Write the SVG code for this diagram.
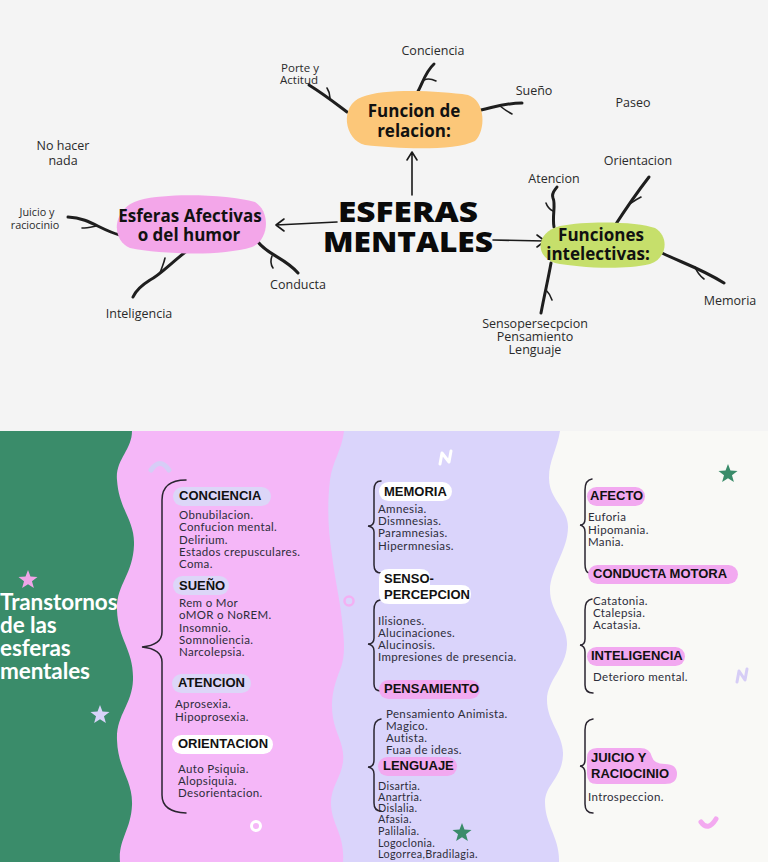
<svg xmlns="http://www.w3.org/2000/svg" xmlns:xlink="http://www.w3.org/1999/xlink" width="768" height="862" viewBox="0 0 768 862">
<defs>
<style>
.lbl{font-family:"Open Sans","Liberation Sans",sans-serif;font-size:12.5px;fill:#2a2a2a;text-anchor:middle}
.blob{font-family:"Open Sans","Liberation Sans",sans-serif;font-size:17px;font-weight:700;fill:#111;text-anchor:middle}
.title{font-family:"Open Sans","Liberation Sans",sans-serif;font-size:28px;font-weight:800;fill:#0a0a0a;text-anchor:middle}
.br{fill:none;stroke:#1e1e1e;stroke-width:3;stroke-linecap:round}
.tw{fill:none;stroke:#1e1e1e;stroke-width:1.6;stroke-linecap:round}
.conn{fill:none;stroke:#1a1a1a;stroke-width:1.6;stroke-linecap:round;stroke-linejoin:round}
.h{font-family:"Liberation Sans","Open Sans",sans-serif;font-size:13px;font-weight:700;fill:#111}
.it{font-family:"Lato","Open Sans",sans-serif;font-size:11.5px;letter-spacing:0.35px;fill:#2d2d3a}
.sm{font-size:10.8px}
.brace{fill:none;stroke:#2a2530;stroke-width:1.5;stroke-linecap:round}
.big{font-family:"Lato","Open Sans",sans-serif;font-size:22.5px;font-weight:700;fill:#ffffff;letter-spacing:-0.1px}
.pl{fill:#dcd6f8}.pw{fill:#ffffff}.pp{fill:#f2a9f0}
</style>
<polygon id="star" points="0,-10 2.47,-3.4 9.51,-3.09 3.99,1.3 5.88,8.09 0,4.2 -5.88,8.09 -3.99,1.3 -9.51,-3.09 -2.47,-3.4"/>
</defs>

<!-- top background -->
<rect x="0" y="0" width="768" height="431" fill="#f4f4f4"/>

<!-- bottom backgrounds -->
<g id="bottom-bg">
<rect x="0" y="431" width="768" height="431" fill="#f9f9f6"/>
<path d="M0,431 H560 C557,450 549,460 549,478 C549,500 568,508 568,527 C568,550 550,570 550,590 C550,612 568,625 567,645 C566,668 547,680 547,700 C547,722 564,735 563,755 C562,778 545,785 545,802 C545,825 560,838 559,862 H0 Z" fill="#dad4fb"/>
<path d="M0,431 H344 C342,450 332,462 330,480 C327,505 328,530 332,555 C335,580 340,600 342,620 C344,640 346,655 340,670 C334,685 330,700 333,718 C336,735 345,745 343,762 C341,778 330,788 331,805 C332,825 345,835 343,862 H0 Z" fill="#f5b7f8"/>
<path d="M0,431 H132 C132,450 115,460 117,480 C119,510 135,520 134,545 C133,575 116,585 117,610 C118,640 134,650 133,680 C132,705 116,715 117,740 C118,770 133,780 132,805 C131,830 118,840 120,862 H0 Z" fill="#3a8c6a"/>
</g>

<!-- decorations -->
<g id="decor">
<path d="M151,470 Q160,457 169,470" fill="none" stroke="#d6cdf6" stroke-width="5" stroke-linecap="round"/>
<path d="M440,464 L442,453 L449,462 L451,451" fill="none" stroke="#ffffff" stroke-width="3" stroke-linecap="round" stroke-linejoin="round"/>
<use xlink:href="#star" href="#star" transform="translate(728,474)" fill="#3a8c6a"/>
<use xlink:href="#star" href="#star" transform="translate(28,580)" fill="#f0a5e8"/>
<use xlink:href="#star" href="#star" transform="translate(100,715)" fill="#d8d3fa"/>
<use xlink:href="#star" href="#star" transform="translate(462,833)" fill="#3a8c6a"/>
<circle cx="349" cy="601" r="4.5" fill="none" stroke="#f3b0f3" stroke-width="2.5"/>
<circle cx="256" cy="826" r="4.5" fill="none" stroke="#ffffff" stroke-width="3"/>
<path d="M737,682 L739,671 L745,680 L747,669" fill="none" stroke="#d6cdf6" stroke-width="3" stroke-linecap="round" stroke-linejoin="round"/>
<path d="M701,822 Q708,832 716,819" fill="none" stroke="#f3a9f0" stroke-width="5" stroke-linecap="round"/>
</g>

<!-- connectors -->
<g id="connectors">
<path class="conn" d="M412,195 V152 M407,160 L412,152 L417,160"/>
<path class="conn" d="M337,222 L276,225 M284,219 L276,225 L284,231"/>
<path class="conn" d="M493,240 L545,241 M537,235 L545,241 L537,247"/>
<!-- branches -->
<path class="br" d="M347,112 C335,103 325,95 309,85"/>
<path class="tw" d="M330,98 C330,93 329,91 327,88"/>
<path class="br" d="M417,93 C422,85 425,72 434,64"/>
<path class="tw" d="M424,80 C428,78 432,79 436,81"/>
<path class="br" d="M481,110 C495,107 505,103 522,103"/>
<path class="tw" d="M500,106 C505,110 508,112 512,114"/>
<path class="br" d="M120,235 C100,230 90,218 68,217"/>
<path class="tw" d="M96,226 C91,227 87,228 82,228"/>
<path class="br" d="M188,250 C172,262 160,275 150,280 C142,285 136,290 133,297"/>
<path class="tw" d="M160,273 C162,267 164,263 165,258"/>
<path class="br" d="M258,242 C268,255 285,258 298,273"/>
<path class="tw" d="M272,256 C270,261 271,265 273,268"/>
<path class="br" d="M554,227 C552,215 556,205 553,198 C551,193 555,190 557,187"/>
<path class="tw" d="M553,211 C549,209 547,206 546,203"/>
<path class="br" d="M614,227 C625,210 635,195 649,177"/>
<path class="tw" d="M631,203 C634,201 637,199 641,197"/>
<path class="br" d="M662,253 C680,262 700,268 724,283"/>
<path class="tw" d="M695,267 C697,272 700,276 704,279"/>
<path class="br" d="M551,263 C548,280 545,292 541,313"/>
<path class="tw" d="M546,290 C550,294 551,297 552,300"/>
</g>

<!-- top nodes -->
<g id="node-center">
<text class="title" x="408" y="222" textLength="140" lengthAdjust="spacingAndGlyphs">ESFERAS</text>
<text class="title" x="408" y="252" textLength="170" lengthAdjust="spacingAndGlyphs">MENTALES</text>
</g>
<g id="node-relacion">
<path d="M362,97 C385,88 440,91 468,95 C486,101 486,131 475,141 C455,151 400,149 365,145 C344,140 339,105 362,97 Z" fill="#fcc779"/>
<text class="blob" x="414" y="117">Funcion de</text>
<text class="blob" x="414" y="137">relacion:</text>
</g>
<g id="node-afectivas">
<path d="M140,200 C170,192 230,195 255,202 C271,212 269,240 252,247 C220,257 160,254 130,248 C111,240 111,208 140,200 Z" fill="#f3a6e9"/>
<text class="blob" x="190" y="222">Esferas Afectivas</text>
<text class="blob" x="189" y="241">o del humor</text>
</g>
<g id="node-intelectivas">
<path d="M560,226 C590,220 640,222 655,228 C669,236 668,258 650,264 C620,271 575,267 555,263 C534,256 536,232 560,226 Z" fill="#c6df6b"/>
<text class="blob" x="601" y="241">Funciones</text>
<text class="blob" x="598" y="259.5">intelectivas:</text>
</g>
<g id="labels">
<text class="lbl" x="433" y="55">Conciencia</text>
<text class="lbl" x="534" y="95">Sueño</text>
<text class="lbl" x="633" y="107">Paseo</text>
<text class="lbl" x="300" y="72" style="font-size:11.5px">Porte y</text>
<text class="lbl" x="299" y="84" style="font-size:11.5px">Actitud</text>
<text class="lbl" x="63" y="150">No hacer</text>
<text class="lbl" x="63" y="164.5">nada</text>
<text class="lbl" x="37" y="216" style="font-size:10.8px">Juicio y</text>
<text class="lbl" x="35" y="228.5" style="font-size:10.8px">raciocinio</text>
<text class="lbl" x="298" y="289">Conducta</text>
<text class="lbl" x="139" y="318">Inteligencia</text>
<text class="lbl" x="554" y="183">Atencion</text>
<text class="lbl" x="638" y="165">Orientacion</text>
<text class="lbl" x="730" y="305">Memoria</text>
<text class="lbl" x="535" y="328">Sensopersecpcion</text>
<text class="lbl" x="535" y="341">Pensamiento</text>
<text class="lbl" x="535" y="354">Lenguaje</text>
</g>

<!-- bottom title -->
<g id="node-transtornos">
<text class="big" x="0" y="610">Transtornos</text>
<text class="big" x="0" y="633">de las</text>
<text class="big" x="0" y="656">esferas</text>
<text class="big" x="0" y="679">mentales</text>
</g>

<!-- column 1 -->
<g id="col-1">
<path class="brace" d="M186,480 Q162,480 162,500 V632 Q162,645 142,647 Q162,649 162,662 V795 Q162,812 186,813"/>
<rect class="pl" x="173" y="487" width="98" height="19" rx="9.5"/>
<text class="h" x="179" y="500">CONCIENCIA</text>
<text class="it" x="179" y="519">Obnubilacion.</text>
<text class="it" x="179" y="531">Confucion mental.</text>
<text class="it" x="179" y="543.5">Delirium.</text>
<text class="it" x="179" y="556">Estados crepusculares.</text>
<text class="it" x="179" y="568">Coma.</text>
<rect class="pl" x="173" y="576" width="56" height="19" rx="9.5"/>
<text class="h" x="179" y="590">SUEÑO</text>
<text class="it" x="179" y="607">Rem o Mor</text>
<text class="it" x="179" y="619">oMOR o NoREM.</text>
<text class="it" x="179" y="631.5">Insomnio.</text>
<text class="it" x="179" y="643.5">Somnoliencia.</text>
<text class="it" x="179" y="656">Narcolepsia.</text>
<rect class="pl" x="172" y="674" width="79" height="19" rx="9.5"/>
<text class="h" x="178" y="687">ATENCION</text>
<text class="it" x="175" y="708">Aprosexia.</text>
<text class="it" x="175" y="721">Hipoprosexia.</text>
<rect class="pw" x="172" y="735" width="101" height="19" rx="9.5"/>
<text class="h" x="178" y="748">ORIENTACION</text>
<text class="it" x="178" y="773">Auto Psiquia.</text>
<text class="it" x="178" y="785">Alopsiquia.</text>
<text class="it" x="178" y="797">Desorientacion.</text>
</g>

<!-- column 2 -->
<g id="col-2">
<path class="brace" d="M381,481 Q374,481 374,490 V520 Q374,526 368,526 Q374,527 374,532 V565 Q374,573 381,573"/>
<path class="brace" d="M380,600 Q374,601 374,610 V638 Q374,644 368,644 Q374,645 374,651 V684 Q374,691 381,691"/>
<path class="brace" d="M381,719 Q374,720 374,730 V760 Q374,767 368,767 Q374,768 374,774 V803 Q374,811 381,811"/>
<rect class="pw" x="379" y="482" width="73" height="19" rx="9.5"/>
<text class="h" x="384" y="496">MEMORIA</text>
<text class="it" x="378" y="513">Amnesia.</text>
<text class="it" x="378" y="525">Dismnesias.</text>
<text class="it" x="378" y="537">Paramnesias.</text>
<text class="it" x="378" y="550">Hipermnesias.</text>
<path class="pw" d="M389,569 H420 Q430,569 430,578 V585 H461 Q471,585 471,594 Q471,604 461,604 H389 Q379,604 379,594 V578 Q379,569 389,569 Z"/>
<text class="h" x="384" y="583">SENSO-</text>
<text class="h" x="384" y="599">PERCEPCION</text>
<text class="it" x="378" y="625">Ilisiones.</text>
<text class="it" x="378" y="637">Alucinaciones.</text>
<text class="it" x="378" y="649">Alucinosis.</text>
<text class="it" x="378" y="661">Impresiones de presencia.</text>
<rect class="pp" x="379" y="680" width="101" height="19" rx="9.5"/>
<text class="h" x="384" y="693">PENSAMIENTO</text>
<text class="it" x="386" y="718">Pensamiento Animista.</text>
<text class="it" x="386" y="730">Magico.</text>
<text class="it" x="386" y="742">Autista.</text>
<text class="it" x="386" y="754">Fuaa de ideas.</text>
<rect class="pp" x="378" y="757" width="79" height="19" rx="9.5"/>
<text class="h" x="383" y="770">LENGUAJE</text>
<text class="it sm" x="378" y="790">Disartia.</text>
<text class="it sm" x="378" y="801">Anartria.</text>
<text class="it sm" x="378" y="812">Dislalia.</text>
<text class="it sm" x="378" y="823">Afasia.</text>
<text class="it sm" x="378" y="835">Palilalia.</text>
<text class="it sm" x="378" y="847">Logoclonia.</text>
<text class="it sm" x="378" y="858">Logorrea,Bradilagia.</text>
</g>

<!-- column 3 -->
<g id="col-3">
<path class="brace" d="M592,479 Q585,480 585,490 V519 Q585,525 580,525 Q585,526 585,532 V564 Q585,572 589,573"/>
<path class="brace" d="M592,599 Q585,600 585,610 V639 Q585,645 580,645 Q585,646 585,652 V685 Q585,693 593,693"/>
<path class="brace" d="M593,719 Q585,720 585,730 V760 Q585,766 580,766 Q585,767 585,773 V804 Q585,813 593,813"/>
<rect class="pp" x="587" y="487" width="58" height="19" rx="9.5"/>
<text class="h" x="590" y="500">AFECTO</text>
<text class="it" x="588" y="521">Euforia</text>
<text class="it" x="588" y="533.5">Hipomania.</text>
<text class="it" x="588" y="546">Mania.</text>
<rect class="pp" x="588" y="565" width="150" height="19" rx="9.5"/>
<text class="h" x="593" y="578">CONDUCTA MOTORA</text>
<text class="it" x="593" y="605">Catatonia.</text>
<text class="it" x="593" y="617">Ctalepsia.</text>
<text class="it" x="593" y="629">Acatasia.</text>
<rect class="pp" x="587" y="647" width="98" height="19" rx="9.5"/>
<text class="h" x="591" y="660">INTELIGENCIA</text>
<text class="it" x="593" y="681">Deterioro mental.</text>
<path class="pp" d="M597,748 H640 Q650,748 652,757 Q654,764 665,764 Q677,764 677,774 Q677,784 665,784 H597 Q587,784 587,774 V758 Q587,748 597,748 Z"/>
<text class="h" x="591" y="762">JUICIO Y</text>
<text class="h" x="591" y="778">RACIOCINIO</text>
<text class="it" x="588" y="801">Introspeccion.</text>
</g>
</svg>
